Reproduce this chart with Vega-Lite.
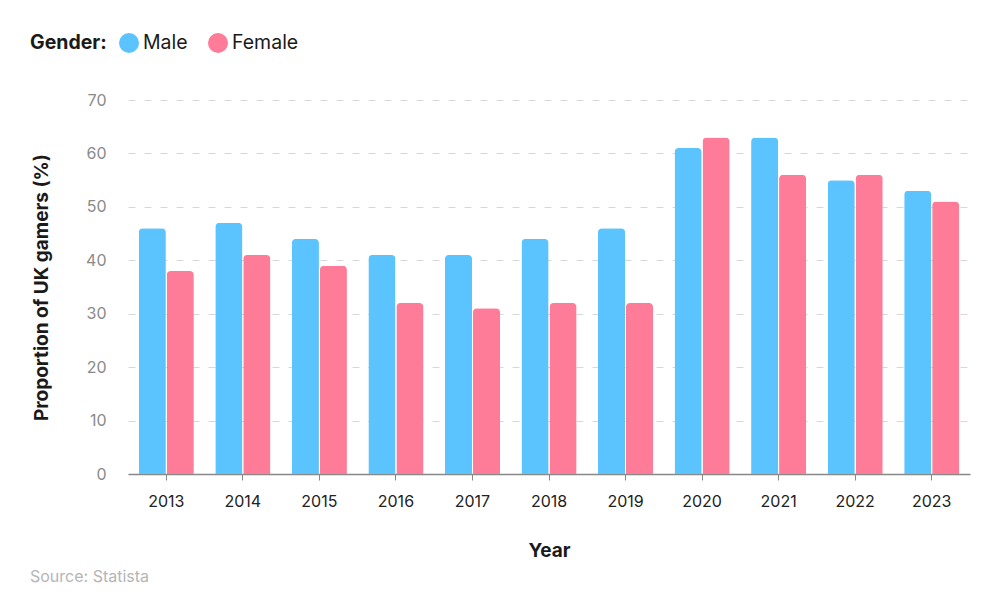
{
  "$schema": "https://vega.github.io/schema/vega-lite/v6.json",
  "autosize": {"type": "none"},
  "width": 842,
  "height": 374,
  "padding": {"left": 128, "top": 100, "right": 30, "bottom": 136},
  "background": "white",
  "config": {
    "font": "Inter",
    "view": {"stroke": null}
  },
  "title": {
    "text": "Source: Statista",
    "orient": "bottom",
    "anchor": "start",
    "frame": "group",
    "dx": -98,
    "offset": 9,
    "fontSize": 16,
    "fontWeight": "normal",
    "color": "#b5b5b5"
  },
  "data": {
    "values": [
      {"year": "2013", "gender": "Male", "value": 46},
      {"year": "2013", "gender": "Female", "value": 38},
      {"year": "2014", "gender": "Male", "value": 47},
      {"year": "2014", "gender": "Female", "value": 41},
      {"year": "2015", "gender": "Male", "value": 44},
      {"year": "2015", "gender": "Female", "value": 39},
      {"year": "2016", "gender": "Male", "value": 41},
      {"year": "2016", "gender": "Female", "value": 32},
      {"year": "2017", "gender": "Male", "value": 41},
      {"year": "2017", "gender": "Female", "value": 31},
      {"year": "2018", "gender": "Male", "value": 44},
      {"year": "2018", "gender": "Female", "value": 32},
      {"year": "2019", "gender": "Male", "value": 46},
      {"year": "2019", "gender": "Female", "value": 32},
      {"year": "2020", "gender": "Male", "value": 61},
      {"year": "2020", "gender": "Female", "value": 63},
      {"year": "2021", "gender": "Male", "value": 63},
      {"year": "2021", "gender": "Female", "value": 56},
      {"year": "2022", "gender": "Male", "value": 55},
      {"year": "2022", "gender": "Female", "value": 56},
      {"year": "2023", "gender": "Male", "value": 53},
      {"year": "2023", "gender": "Female", "value": 51}
    ]
  },
  "mark": {"type": "bar", "cornerRadiusTopLeft": 4, "cornerRadiusTopRight": 4},
  "encoding": {
    "x": {
      "field": "year",
      "type": "nominal",
      "scale": {"paddingInner": 0.28, "paddingOuter": 0.14},
      "axis": {
        "title": "Year",
        "titleFontSize": 19,
        "titleFontWeight": "bold",
        "titleColor": "#1a1a1a",
        "titlePadding": 32,
        "labelAngle": 0,
        "labelFontSize": 16,
        "labelColor": "#222222",
        "labelPadding": 13,
        "tickColor": "#888888",
        "tickSize": 6,
        "domainColor": "#888888",
        "domainWidth": 1.5,
        "grid": false
      }
    },
    "xOffset": {
      "field": "gender",
      "type": "nominal",
      "sort": ["Male", "Female"],
      "scale": {"paddingInner": 0.03}
    },
    "y": {
      "field": "value",
      "type": "quantitative",
      "scale": {"domain": [0, 70]},
      "axis": {
        "title": "Proportion of UK gamers (%)",
        "titleFontSize": 19,
        "titleFontWeight": "bold",
        "titleColor": "#1a1a1a",
        "titlePadding": 34,
        "values": [0, 10, 20, 30, 40, 50, 60, 70],
        "labelFontSize": 16,
        "labelColor": "#8a8a8a",
        "labelPadding": 22,
        "domain": false,
        "ticks": false,
        "gridColor": "#d8d8d8",
        "gridDash": [7, 9],
        "gridWidth": 1
      }
    },
    "color": {
      "field": "gender",
      "type": "nominal",
      "sort": ["Male", "Female"],
      "scale": {"domain": ["Male", "Female"], "range": ["#5BC4FE", "#FE7C98"]},
      "legend": {
        "title": "Gender:",
        "orient": "none",
        "legendX": -98,
        "legendY": -67,
        "direction": "horizontal",
        "titleOrient": "left",
        "titleFontSize": 19.5,
        "titleFontWeight": "bold",
        "titleColor": "#1a1a1a",
        "titlePadding": 12,
        "labelFontSize": 19.5,
        "labelColor": "#1a1a1a",
        "labelOffset": 4,
        "symbolType": "circle",
        "symbolSize": 400,
        "symbolStrokeWidth": 0,
        "columnPadding": 20
      }
    }
  }
}
